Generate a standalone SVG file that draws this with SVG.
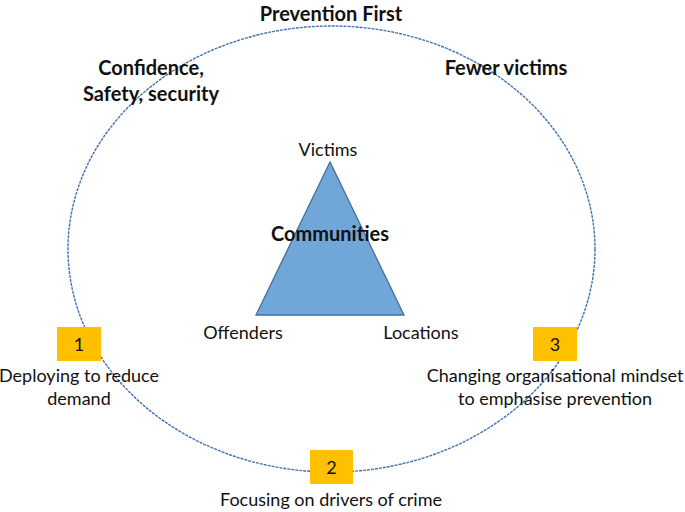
<svg xmlns="http://www.w3.org/2000/svg" width="685" height="512" viewBox="0 0 685 512">
<style>
text{font-family:Lato,"Open Sans","Liberation Sans",sans-serif;fill:#111;text-anchor:middle}
.b{font-weight:bold;font-size:20px}
.r{font-size:18px}
.box{fill:#FFC000}
</style>
<rect width="685" height="512" fill="#fff"/>
<g id="connectors">
<ellipse cx="331.5" cy="249" rx="263.5" ry="223" fill="none" stroke="#4372AE" stroke-width="1.4" stroke-dasharray="3 1"/>
</g>
<g id="prevention-first"><text class="b" x="331" y="21">Prevention First</text></g>
<g id="confidence"><text class="b" x="151" y="75">Confidence,</text><text class="b" x="151" y="101">Safety, security</text></g>
<g id="fewer-victims"><text class="b" x="506" y="75">Fewer victims</text></g>
<g id="triangle">
<polygon points="330,162 256,315 404,315" fill="#70A6D8" stroke="#41719C" stroke-width="1.3"/>
<text class="b" x="330" y="241">Communities</text>
</g>
<g id="victims"><text class="r" x="328" y="156">Victims</text></g>
<g id="offenders"><text class="r" x="243" y="339">Offenders</text></g>
<g id="locations"><text class="r" x="421" y="339">Locations</text></g>
<g id="step1"><rect class="box" x="57" y="327" width="44" height="34"/><text class="r" x="79" y="351">1</text>
<text class="r" x="79" y="382">Deploying to reduce</text><text class="r" x="79" y="405">demand</text></g>
<g id="step2"><rect class="box" x="310" y="450" width="43" height="34"/><text class="r" x="331.5" y="474">2</text>
<text class="r" x="331" y="506">Focusing on drivers of crime</text></g>
<g id="step3"><rect class="box" x="533" y="327" width="44" height="34"/><text class="r" x="555" y="351">3</text>
<text class="r" x="555" y="382">Changing organisational mindset</text><text class="r" x="555" y="405">to emphasise prevention</text></g>
</svg>
